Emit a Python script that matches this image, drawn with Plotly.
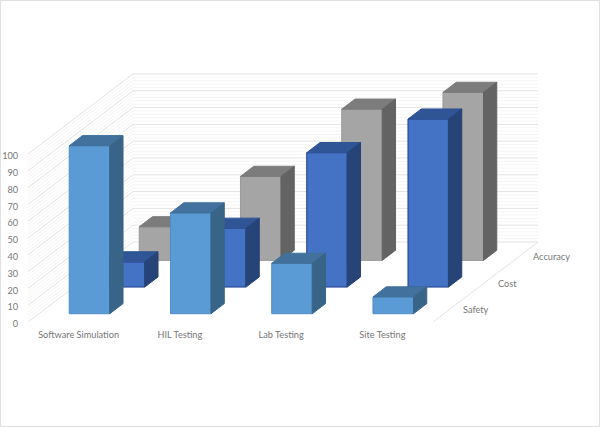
import plotly.graph_objects as go

categories = ["Software Simulation", "HIL Testing", "Lab Testing", "Site Testing"]
depth_labels = ["Safety", "Cost", "Accuracy"]
safety = [100, 60, 30, 10]
cost = [15, 35, 80, 100]
accuracy = [20, 50, 90, 100]
value_ticks = list(range(0, 101, 10))
minor_ticks = [v for v in range(0, 101, 2) if v % 10 != 0]

# front, top, side, edge
safety_colors = ["#5B9BD5", "#41719C", "#386488", "#4F8CC6"]
cost_colors = ["#4472C4", "#2F5597", "#264478", "#1F3F8F"]
accuracy_colors = ["#A5A5A5", "#7C7C7C", "#636363", "#9A9A9A"]

# oblique projection: one depth row moves this far in category / value units
DEPTH_X = 35 / 101.25
DEPTH_Y = 26.67 / 1.68
BAR_W = 0.4
BAR_D = 0.38

GRID = "#E2E2E2"
MINOR = "#F5F5F5"
TEXT = "#767676"
FONT = "Lato"
FONT_SIZE = 9.2

L, B = 28, 105
W, H = 600, 427


def proj(c, d, v):
    return c + d * DEPTH_X, v + d * DEPTH_Y


def polygon(points, fill, edge, width=1):
    xs, ys = zip(*[proj(*p) for p in points + points[:1]])
    return go.Scatter(
        x=xs, y=ys, mode="lines", fill="toself", fillcolor=fill,
        line=dict(color=edge, width=width), hoverinfo="skip", cliponaxis=False,
    )


def wall_lines(values, color, width):
    xs, ys = [], []
    for v in values:
        for p in [(0, 0, v), (0, 3, v), (4, 3, v)]:
            x, y = proj(*p)
            xs.append(x)
            ys.append(y)
        xs.append(None)
        ys.append(None)
    return go.Scatter(
        x=xs, y=ys, mode="lines", line=dict(color=color, width=width),
        hoverinfo="skip", cliponaxis=False,
    )


fig = go.Figure()

# walls and floor edge
fig.add_trace(wall_lines(minor_ticks, MINOR, 1))
fig.add_trace(wall_lines(value_ticks, GRID, 1))
edge_x, edge_y = zip(proj(4, 0, 0), proj(4, 3, 0))
fig.add_trace(go.Scatter(x=edge_x, y=edge_y, mode="lines", line=dict(color=GRID, width=1),
                         hoverinfo="skip", cliponaxis=False))

# back row first so the nearer bars cover it
rows = [(accuracy, accuracy_colors, 2), (cost, cost_colors, 1), (safety, safety_colors, 0)]
for values, colors, row in rows:
    front, top, side, edge = colors
    d0 = row + (1 - BAR_D) / 2
    d1 = d0 + BAR_D
    for i, v in enumerate(values):
        c0 = i + (1 - BAR_W) / 2
        c1 = c0 + BAR_W
        fig.add_trace(polygon([(c0, d0, 0), (c1, d0, 0), (c1, d0, v), (c0, d0, v)], front, edge))
        fig.add_trace(polygon([(c0, d0, v), (c1, d0, v), (c1, d1, v), (c0, d1, v)], top, top))
        fig.add_trace(polygon([(c1, d0, 0), (c1, d1, 0), (c1, d1, v), (c1, d0, v)], side, side))

for row, label in enumerate(depth_labels):
    x, y = proj(4, row + 0.5, 0)
    fig.add_annotation(x=x, y=y, text=label, showarrow=False, xanchor="left", xshift=10, yshift=-1,
                       font=dict(family=FONT, size=FONT_SIZE, color=TEXT))

x_max = (W - L) / 101.25
y_max = (H - B) / 1.68

# thin frame round the whole picture
fig.add_shape(type="rect", xref="paper", yref="paper",
              x0=-L / (W - L), x1=1, y0=-B / (H - B), y1=1,
              line=dict(color="#E0E0E0", width=2), fillcolor="rgba(0,0,0,0)")

fig.update_layout(
    width=W, height=H,
    margin=dict(l=L, r=0, t=0, b=B),
    showlegend=False,
    plot_bgcolor="white",
    paper_bgcolor="white",
    font=dict(family=FONT, size=FONT_SIZE, color=TEXT),
    xaxis=dict(
        range=[0, x_max], tickmode="array",
        tickvals=[i + 0.5 for i in range(len(categories))], ticktext=categories,
        showgrid=False, zeroline=False, showline=False,
        ticks="outside", ticklen=4, tickcolor="rgba(0,0,0,0)",
    ),
    yaxis=dict(
        range=[0, y_max], tickmode="array", tickvals=value_ticks,
        showgrid=False, zeroline=False, showline=False,
        ticks="outside", ticklen=7, tickcolor="rgba(0,0,0,0)",
        ticklabelshift=2,
    ),
)

# page margin would push the figure out of the window
fig.write_html(
    "out.html",
    config={"displayModeBar": False},
    post_script="document.body.style.margin='0';document.body.style.overflow='hidden';",
)
